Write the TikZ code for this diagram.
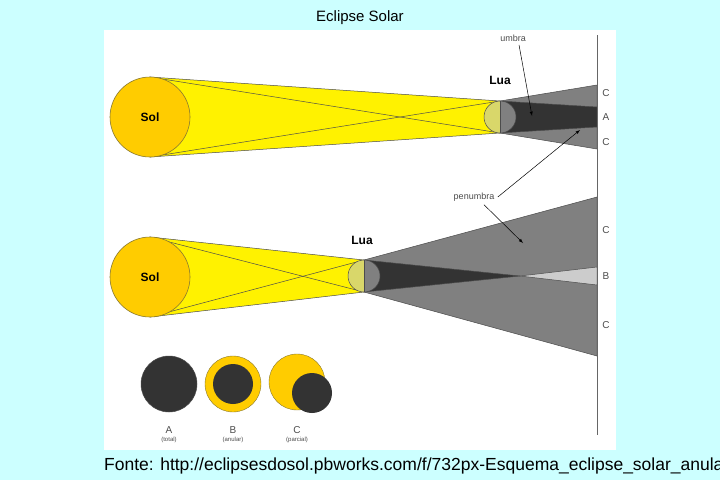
\documentclass[tikz,border=0pt]{standalone}
\usepackage{fontspec}
\setmainfont{Liberation Sans}
\begin{document}
\begin{tikzpicture}[x=1pt,y=-1pt,
  outl/.style={draw=black!70,line width=0.5pt},
  sun/.style={circle,fill=sunc,draw=sunb,line width=0.6pt,inner sep=0pt,minimum size=80pt},
  lbl/.style={font=\fontsize{10}{10}\selectfont,text=black!70},
  bold/.style={font=\fontsize{12}{12}\selectfont\bfseries},
  arr/.style={-latex,line width=0.5pt}]
\definecolor{sunc}{HTML}{FFCC00}\definecolor{sunb}{HTML}{8A7A30}
\definecolor{bg}{HTML}{CCFFFF}\definecolor{moonl}{HTML}{D9D76A}
\definecolor{pen}{HTML}{808080}\definecolor{umb}{HTML}{333333}\definecolor{ant}{HTML}{CCCCCC}
\fill[bg] (0,0) rectangle (720,480);
\useasboundingbox (0,0) rectangle (720,480);
\fill[white] (104,30) rectangle (616,450);
\node (title) at (360,18) {\fontsize{15}{15}\selectfont Eclipse Solar};
\begin{scope}\clip (0,0) rectangle (720,480);
\node[anchor=west,inner sep=0pt] (src) at (104,466) {\fontsize{17.5}{18}\selectfont Fonte: http://eclipsesdosol.pbworks.com/f/732px-Esquema\_eclipse\_solar\_anular.png};
\end{scope}
% screen
\coordinate (s1) at (597,35); \coordinate (s2) at (597,435);
% ---- top
\fill[yellow,outl] (150,77) -- (500,101) -- (500,133) -- (150,157) -- cycle;
\draw[outl] (150,77) -- (500,133); \draw[outl] (150,157) -- (500,101);
\fill[pen,outl] (500,101) -- (597,85) -- (597,149) -- (500,133) -- cycle;
\fill[umb,outl] (500,101) -- (597,107) -- (597,127) -- (500,133) -- cycle;
\node[sun] (sol1) at (150,117) {}; \node[bold] at (sol1) {Sol};
\begin{scope}\clip (480,95) rectangle (500,140); \fill[moonl] (500,117) circle (16);\end{scope}
\begin{scope}\clip (500,95) rectangle (520,140); \fill[pen] (500,117) circle (16);\end{scope}
\draw[outl] (500,117) circle (16); \draw[outl] (500,101) -- (500,133);
\node[bold] (lua1) at (500,80) {Lua};
% ---- bottom
\fill[yellow,outl] (150,237) -- (364,260) -- (364,292) -- (150,317) -- cycle;
\draw[outl] (150,237) -- (364,292); \draw[outl] (150,317) -- (364,260);
\fill[pen,outl] (364,260) -- (597,197) -- (597,356) -- (364,292) -- cycle;
\fill[ant,outl] (520,276) -- (597,267) -- (597,285) -- cycle;
\fill[umb,outl] (364,260) -- (520,276) -- (364,292) -- cycle;
\node[sun] (sol2) at (150,277) {}; \node[bold] at (sol2) {Sol};
\begin{scope}\clip (344,255) rectangle (364,300); \fill[moonl] (364,276) circle (16);\end{scope}
\begin{scope}\clip (364,255) rectangle (384,300); \fill[pen] (364,276) circle (16);\end{scope}
\draw[outl] (364,276) circle (16); \draw[outl] (364,260) -- (364,292);
\node[bold] (lua2) at (362,240) {Lua};
\draw[black!60,line width=0.8pt] (s1) -- (s2);
% labels
\node[lbl] at (606,93) {C}; \node[lbl] at (606,117) {A}; \node[lbl] at (606,142) {C};
\node[lbl] at (606,230) {C}; \node[lbl] at (606,276) {B}; \node[lbl] at (606,325) {C};
\node[lbl,font=\fontsize{9}{9}\selectfont] (umbra) at (513,38) {umbra};
\node[lbl,font=\fontsize{9}{9}\selectfont] (penumbra) at (474,197) {penumbra};
\coordinate (ua) at (532,116); \coordinate (pa1) at (580,130); \coordinate (pa2) at (523,243);
\draw[arr] (umbra.south) ++(6,0) -- (ua);
\draw[arr] (penumbra.east) -- (pa1);
\draw[arr] (penumbra.south) ++(10,0) -- (pa2);
% phases
\fill[umb,outl] (169,384) circle (28);
\fill[sunc,draw=sunb] (233,384) circle (28); \fill[umb] (233,384) circle (20);
\fill[sunc,draw=sunb] (297,382) circle (28); \fill[umb] (312,393) circle (20);
\node[lbl] at (169,430) {A}; \node[lbl,font=\fontsize{6}{6}\selectfont] at (169,440) {(total)};
\node[lbl] at (233,430) {B}; \node[lbl,font=\fontsize{6}{6}\selectfont] at (233,440) {(anular)};
\node[lbl] at (297,430) {C}; \node[lbl,font=\fontsize{6}{6}\selectfont] at (297,440) {(parcial)};
\end{tikzpicture}
\end{document}
